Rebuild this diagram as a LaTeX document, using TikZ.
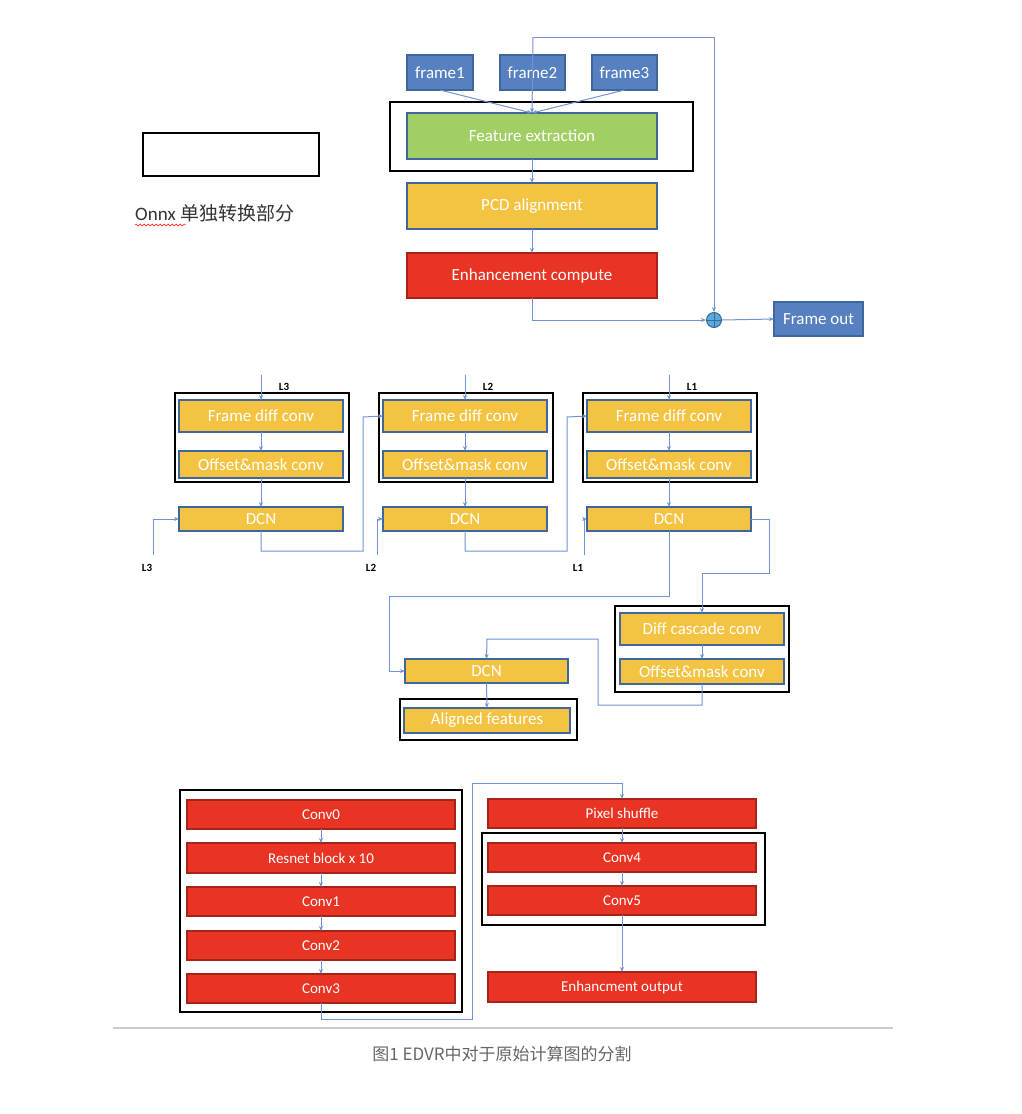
\documentclass[tikz,border=0pt]{standalone}
\usepackage{fontspec}
\setmainfont{Carlito}
\newfontfamily\cjk{Noto Sans CJK SC}
\usetikzlibrary{arrows.meta,decorations.pathmorphing}
\definecolor{bfill}{HTML}{5680C0}
\definecolor{bdraw}{HTML}{3F679E}
\definecolor{gfill}{HTML}{A1CF63}
\definecolor{yfill}{HTML}{F5C342}
\definecolor{rfill}{HTML}{E93323}
\definecolor{ln}{HTML}{6F94CF}
\tikzset{
 box/.style={draw=bdraw,line width=1.2pt,text=white,inner sep=0pt,outer sep=0pt,font=\fontsize{17}{17}\selectfont},
 bluebox/.style={box,fill=bfill},
 greenbox/.style={box,fill=gfill},
 yelbox/.style={box,fill=yfill},
 redbox/.style={box,fill=rfill,draw=rfill!70!black,font=\fontsize{15}{15}\selectfont},
 frm/.style={draw=black,line width=2pt},
 conn/.style={draw=ln,line width=1pt,-{Stealth[length=5pt,width=4pt]}},
 lab/.style={font=\bfseries\fontsize{11}{11}\selectfont,inner sep=0pt}
}
\newcommand{\bx}[7]{\node[#6,minimum width={(#4)-(#2)},minimum height={(#5)-(#3)}] (#1) at ({((#2)+(#4))/2},{((#3)+(#5))/2}) {#7};}
\newcommand{\fr}[5]{\draw[frm] (#2,#3) rectangle (#4,#5) coordinate (#1);}
\begin{document}
\begin{tikzpicture}[x=1pt,y=-1pt]
\useasboundingbox (0,0) rectangle (1022,1114);
% top
\bx{f1}{407}{55}{473}{90}{bluebox}{frame1}
\bx{f2}{500}{55}{565}{90}{bluebox}{frame2}
\bx{f3}{592}{55}{657}{90}{bluebox}{frame3}
\fr{fr0}{390}{102}{693}{171}
\bx{fe}{407}{113}{657}{159}{greenbox}{Feature extraction}
\bx{pcd}{407}{183}{657}{229}{yelbox}{PCD alignment}
\bx{enh}{407}{253}{657}{298}{redbox,font=\fontsize{17}{17}\selectfont}{Enhancement compute}
\node[draw=bdraw,fill=ln!80!cyan,circle,minimum size=15pt,inner sep=0pt,line width=1pt] (sum) at (714,320) {};
\draw[bdraw,line width=1pt] (sum.north)--(sum.south) (sum.west)--(sum.east);
\bx{fo}{774}{302}{863}{336}{bluebox}{Frame out}
\draw[conn] (f1.south) -- (fe.north);
\draw[conn] (f3.south) -- (fe.north);
\coordinate (tl) at (533,37);
\draw[conn] (tl) -- (fe.north);
\draw[conn] (tl) -| (sum.north);
\draw[conn] (fe) -- (pcd);
\draw[conn] (pcd) -- (enh);
\draw[conn] (enh.south) |- (sum.west);
\draw[conn] (sum.east) -- (fo.west);
\draw[black,line width=1.5pt] (143,133) rectangle (319,176);
\node[anchor=west,inner sep=0pt,font=\fontsize{19}{19}\selectfont,text=black!80] (leg) at (135,213) {Onnx \cjk 单独转换部分};
\draw[red,decorate,decoration={snake,amplitude=1pt,segment length=4pt}] (135,225) -- (186,225);
% middle
\foreach \i/\dx/\L/\lx in {1/0/L3/147,2/204/L2/371,3/408/L1/578}{
 \fr{fra\i}{175+\dx}{393}{349+\dx}{482}
 \bx{fd\i}{179+\dx}{400}{343+\dx}{432}{yelbox}{Frame diff conv}
 \bx{om\i}{179+\dx}{451}{343+\dx}{478}{yelbox}{Offset\&mask conv}
 \bx{dcn\i}{179+\dx}{507}{343+\dx}{531}{yelbox}{DCN}
 \coordinate (top\i) at (261+\dx,375);
 \node[lab] at (284+\dx,387) {\L};
 \draw[conn] (top\i) -- (fd\i);
 \draw[conn] (fd\i) -- (om\i);
 \draw[conn] (om\i) -- (dcn\i);
 \node[lab] (ll\i) at (\lx,568) {\L};
 \coordinate (ls\i) at (\lx+6,555);
 \draw[conn] (ls\i) |- (dcn\i.west);
}
\draw[conn] (dcn1.south) -- ++(0,20) -| (363,417) -- (fd2.west);
\draw[conn] (dcn2.south) -- ++(0,20) -| (567,417) -- (fd3.west);
\fr{frd}{615}{606}{789}{692}
\bx{dc}{620}{613}{784}{645}{yelbox}{Diff cascade conv}
\bx{om4}{620}{659}{784}{684}{yelbox}{Offset\&mask conv}
\bx{dcn4}{405}{659}{568}{683}{yelbox}{DCN}
\fr{fral}{400}{699}{577}{740}
\bx{al}{404}{708}{570}{733}{yelbox}{Aligned features}
\draw[conn] (dcn3.south) -- (669,596) -| (389,671) -- (dcn4.west);
\draw[conn] (dcn3.east) -| (769,573) -| (dc.north);
\draw[conn] (dc) -- (om4);
\draw[conn] (om4.south) |- (598,705) |- (487,639) -- (dcn4.north);
\draw[conn] (dcn4) -- (al);
% bottom
\fr{frb}{180}{790}{462}{1012}
\bx{c0}{187}{800}{455}{829}{redbox}{Conv0}
\bx{rb}{187}{843}{455}{873}{redbox}{Resnet block x 10}
\bx{c1}{187}{887}{455}{916}{redbox}{Conv1}
\bx{c2}{187}{931}{455}{960}{redbox}{Conv2}
\bx{c3}{187}{974}{455}{1003}{redbox}{Conv3}
\bx{ps}{488}{799}{756}{828}{redbox}{Pixel shuffle}
\fr{frc}{482}{833}{765}{925}
\bx{c4}{488}{843}{756}{872}{redbox}{Conv4}
\bx{c5}{488}{886}{756}{915}{redbox}{Conv5}
\bx{eo}{488}{972}{756}{1002}{redbox}{Enhancment output}
\draw[conn] (c0)--(rb); \draw[conn] (rb)--(c1); \draw[conn] (c1)--(c2); \draw[conn] (c2)--(c3);
\draw[conn] (ps)--(c4); \draw[conn] (c4)--(c5); \draw[conn] (c5)--(eo);
\draw[conn] (c3.south) |- (472,1019) |- (622,783) -- (ps.north);
\draw[black!20,line width=1.2pt] (113,1028) -- (893,1028);
\node[font=\cjk\fontsize{17}{17}\selectfont,text=black!60] (cap) at (502,1054) {图1 EDVR中对于原始计算图的分割};
\end{tikzpicture}
\end{document}
